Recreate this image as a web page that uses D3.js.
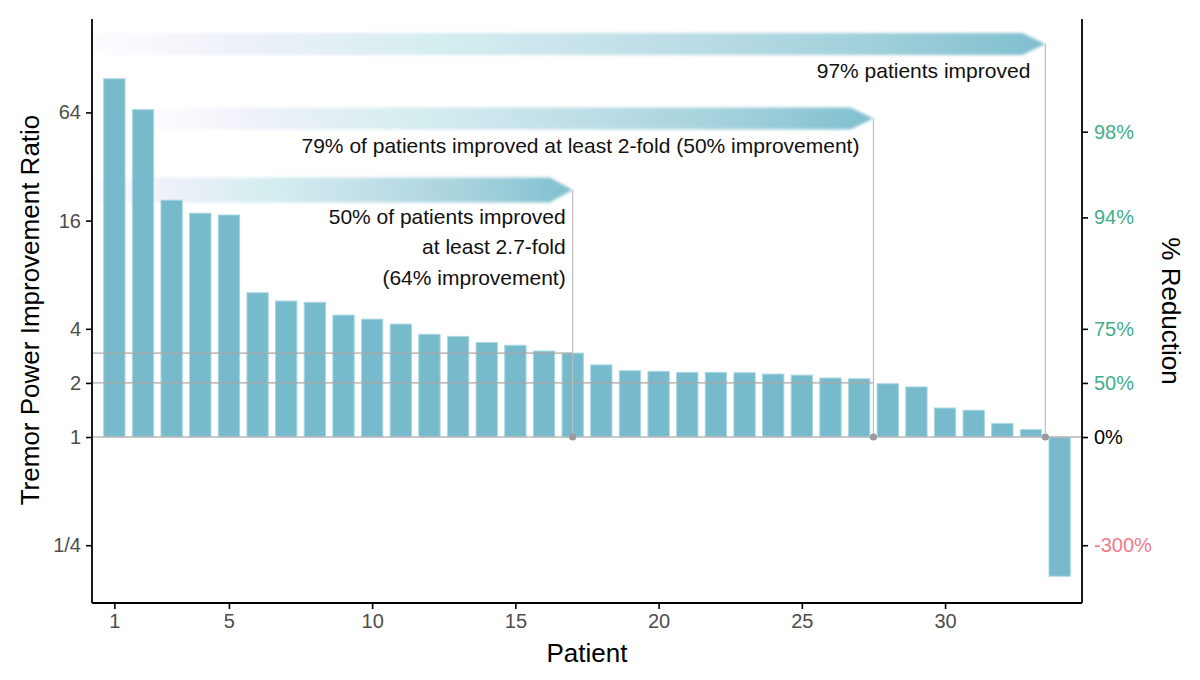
<!DOCTYPE html>
<html>
<head>
<meta charset="utf-8">
<script src="https://cdn.jsdelivr.net/npm/d3@7"></script>
<style>
  body { margin: 0; background: #fff; }
  text { font-family: "Liberation Sans", Arial, sans-serif; }
</style>
</head>
<body>
<div id="chart"></div>
<script>
////////////////////////////////////////////////////////////////////////////////
// Data

var patients = [1, 2, 3, 4, 5, 6, 7, 8, 9, 10, 11, 12, 13, 14, 15, 16, 17,
                18, 19, 20, 21, 22, 23, 24, 25, 26, 27, 28, 29, 30, 31, 32, 33, 34];
var ratios = [98.5, 66.3, 20.8, 17.6, 17.2, 6.35, 5.71, 5.62, 4.77, 4.53, 4.25, 3.73, 3.63, 3.36,
              3.24, 3.01, 2.93, 2.52, 2.34, 2.32, 2.29, 2.29, 2.28, 2.24, 2.21, 2.13, 2.11,
              1.98, 1.90, 1.45, 1.41, 1.19, 1.10, 0.168];

var x_ticks = [1, 5, 10, 15, 20, 25, 30];
var y_ticks = [64, 16, 4, 2, 1, 0.25];
var y_tick_labels = ["64", "16", "4", "2", "1", "1/4"];

// secondary axis: % reduction = 1 - 1/ratio
var red_ticks = [50, 16.67, 4, 2, 1, 0.25];
var red_labels = ["98%", "94%", "75%", "50%", "0%", "-300%"];
var red_colors = ["#3fae8c", "#3fae8c", "#3fae8c", "#3fae8c", "#000000", "#f07a8b"];

// annotations (arrows end at a patient position, at a ratio level)
var ann_start = [0.25, 2.25, 0.25];
var ann_end = [33.5, 27.5, 17];
var ann_level = [153.7, 59.2, 23.7];
var ann_ref = [null, 2, 2.93];          // horizontal guide ratio for each arrow
var ann_text = [
  ["97% patients improved"],
  ["79% of patients improved at least 2-fold (50% improvement)"],
  ["50% of patients improved", "at least 2.7-fold", "(64% improvement)"]
];
var ann_dx = [-15, -14, -7];
var ann_h = [22, 22, 25];

////////////////////////////////////////////////////////////////////////////////
// Setup

var W = 1200, H = 680;
var margin = {left: 92, right: 118, top: 19, bottom: 77};

var svg = d3.select("#chart").append("svg")
    .attr("width", W).attr("height", H);

var scale_X = d3.scaleLinear().domain([0.22, 34.78]).range([margin.left, W - margin.right]);
var scale_Y = d3.scaleLog().base(2)
    .domain([Math.pow(2, -3.068), Math.pow(2, 7.727)])
    .range([H - margin.bottom, margin.top]);

var bar_w = (scale_X(2) - scale_X(1)) * 0.745;

var defs = svg.append("defs");
defs.append("filter").attr("id", "soft")
    .attr("x", "-5%").attr("y", "-30%").attr("width", "110%").attr("height", "160%")
  .append("feGaussianBlur").attr("stdDeviation", 1.5);

var grad = defs.append("linearGradient").attr("id", "arrow_grad")
    .attr("x1", "0%").attr("x2", "100%").attr("y1", "0%").attr("y2", "0%");
[[0, "#f6f6fd", 0.3], [0.15, "#eceff9", 0.9], [0.35, "#d6eef0", 1],
 [0.55, "#c4e1e9", 1], [0.8, "#a3d1dc", 1], [1, "#7fbfce", 1]].forEach(function(s) {
  grad.append("stop").attr("offset", s[0]).attr("stop-color", s[1]).attr("stop-opacity", s[2]);
});

////////////////////////////////////////////////////////////////////////////////
// Arrows (behind the bars)

var head_len = 23;
ann_end.forEach(function(e, i) {
  var x0 = scale_X(ann_start[i]), x1 = scale_X(e), yc = scale_Y(ann_level[i]), h = ann_h[i];
  var pts = [[x0, yc - h / 2], [x1 - head_len, yc - h / 2], [x1, yc],
             [x1 - head_len, yc + h / 2], [x0, yc + h / 2]];
  svg.append("path")
    .attr("d", "M" + pts.join("L") + "Z")
    .attr("fill", "url(#arrow_grad)")
    .attr("filter", "url(#soft)");
});

////////////////////////////////////////////////////////////////////////////////
// Bars

svg.selectAll(".bar").data(patients).enter().append("rect")
    .attr("class", "bar")
    .attr("x", function(d) { return scale_X(d) - bar_w / 2; })
    .attr("width", bar_w)
    .attr("y", function(d, i) { return Math.min(scale_Y(ratios[i]), scale_Y(1)); })
    .attr("height", function(d, i) { return Math.abs(scale_Y(ratios[i]) - scale_Y(1)); })
    .attr("fill", "#76bacb")
    .attr("stroke", "#acd8e2")
    .attr("stroke-width", 1);

////////////////////////////////////////////////////////////////////////////////
// Guides + annotation text

svg.append("line")
    .attr("x1", scale_X.range()[0]).attr("x2", scale_X.range()[1])
    .attr("y1", scale_Y(1)).attr("y2", scale_Y(1))
    .attr("stroke", "#b8b8b8").attr("stroke-width", 1.3);

ann_end.forEach(function(e, i) {
  if (ann_ref[i] != null) {
    svg.append("line")
      .attr("x1", scale_X.range()[0]).attr("x2", scale_X(e))
      .attr("y1", scale_Y(ann_ref[i])).attr("y2", scale_Y(ann_ref[i]))
      .attr("stroke", "#a8a8a8").attr("stroke-width", 1.3);
  }
  svg.append("line")
    .attr("x1", scale_X(e)).attr("x2", scale_X(e))
    .attr("y1", scale_Y(ann_level[i])).attr("y2", scale_Y(1))
    .attr("stroke", "#bdbdbd").attr("stroke-width", 1.2);
  svg.append("circle")
    .attr("cx", scale_X(e)).attr("cy", scale_Y(1)).attr("r", 3.6)
    .attr("fill", "#9a9a9a");

  var t = svg.append("text")
    .attr("text-anchor", "end")
    .attr("font-size", 21)
    .attr("fill", "#111");
  ann_text[i].forEach(function(line, k) {
    t.append("tspan")
      .attr("x", scale_X(e) + ann_dx[i])
      .attr("y", scale_Y(ann_level[i]) + 34 + k * 30.5)
      .text(line);
  });
});

////////////////////////////////////////////////////////////////////////////////
// Axes

var x_axis = d3.axisBottom(scale_X).tickValues(x_ticks).tickSize(6).tickPadding(5);
var y_axis = d3.axisLeft(scale_Y).tickValues(y_ticks).tickSize(6).tickPadding(5)
    .tickFormat(function(d, i) { return y_tick_labels[i]; });
var r_axis = d3.axisRight(scale_Y).tickValues(red_ticks).tickSize(6).tickPadding(6)
    .tickFormat(function(d, i) { return red_labels[i]; });

function style_axis(g) {
  g.select(".domain").attr("stroke", "#000").attr("stroke-width", 1.8);
  g.selectAll(".tick line").attr("stroke", "#000").attr("stroke-width", 1.6);
  g.selectAll(".tick text").attr("font-size", 20).attr("fill", "#4d4d4d")
    .attr("font-family", "Liberation Sans, Arial, sans-serif");
}

var gx = svg.append("g").attr("transform", "translate(0," + (H - margin.bottom) + ")").call(x_axis);
style_axis(gx);
var gy = svg.append("g").attr("transform", "translate(" + margin.left + ",0)").call(y_axis);
style_axis(gy);
var gr = svg.append("g").attr("transform", "translate(" + (W - margin.right) + ",0)").call(r_axis);
style_axis(gr);
gr.selectAll(".tick text").attr("fill", function(d, i) { return red_colors[i]; });

// plain axis lines, no outer tick stubs
gx.select(".domain").attr("d", "M" + scale_X.range()[0] + ",0H" + scale_X.range()[1]);
gy.select(".domain").attr("d", "M0," + scale_Y.range()[1] + "V" + scale_Y.range()[0]);
gr.select(".domain").attr("d", "M0," + scale_Y.range()[1] + "V" + scale_Y.range()[0]);

// titles
svg.append("text")
    .attr("transform", "translate(39,310) rotate(-90)")
    .attr("text-anchor", "middle").attr("font-size", 26).attr("fill", "#000")
    .text("Tremor Power Improvement Ratio");
svg.append("text")
    .attr("x", (scale_X.range()[0] + scale_X.range()[1]) / 2).attr("y", 662)
    .attr("text-anchor", "middle").attr("font-size", 26).attr("fill", "#000")
    .text("Patient");
svg.append("text")
    .attr("transform", "translate(1162,311) rotate(90)")
    .attr("text-anchor", "middle").attr("font-size", 26).attr("fill", "#000")
    .text("% Reduction");
</script>
</body>
</html>
